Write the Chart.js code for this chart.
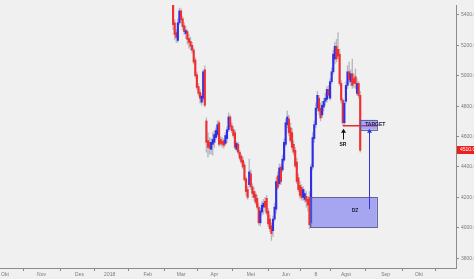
<!DOCTYPE html>
<html>
<head>
<meta charset="utf-8">
<script src="https://cdn.jsdelivr.net/npm/chart.js@4.4.1/dist/chart.umd.min.js"></script>
<style>
  html, body { margin: 0; padding: 0; background: #f0f0f0; }
  #c { display: block; }
</style>
</head>
<body>
<canvas id="c" width="474" height="279"></canvas>
<script>
// Daily sessions, numbered from the first session of October 2017
const firstBar = 106;
const opens = [5497,5348,5284,5232,5348,5426,5374,5329,5277,5290,5245,5226,5200,5168,5103,5007,4929,4890,4826,4852,
  5039,4703,4574,4562,4516,4549,4562,4594,4613,4691,4581,4568,4574,4555,4587,4645,4729,4671,4645,4626,
  4516,4549,4497,4471,4445,4413,4323,4252,4284,4355,4271,4239,4220,4194,4136,4033,4104,4136,4175,4194,
  4110,4058,4013,3981,4058,4123,4342,4291,4400,4381,4445,4549,4678,4716,4658,4626,4549,4510,4433,4329,
  4278,4265,4200,4187,4207,4187,4200,4033,4400,4587,4678,4787,4852,4787,4742,4794,4832,4845,4910,4852,
  4961,5026,5110,5194,5174,5142,4949,4839,4691,4832,4936,5026,4961,5013,4981,4994,4884,4949,4871];
const highs = [5530,5368,5303,5374,5445,5439,5387,5348,5323,5303,5271,5252,5219,5181,5116,5026,4949,4910,4878,5039,
  5065,4723,4626,4594,4587,4626,4639,4658,4703,4703,4600,4594,4587,4626,4665,4755,4742,4691,4665,4645,
  4568,4562,4510,4484,4465,4433,4336,4271,4452,4381,4291,4265,4239,4213,4162,4129,4175,4187,4200,4213,
  4129,4084,4033,4078,4162,4329,4368,4420,4420,4478,4587,4716,4768,4742,4691,4652,4574,4529,4458,4355,
  4304,4284,4271,4252,4239,4207,4239,4420,4626,4703,4820,4897,4871,4820,4832,4852,4884,4929,4936,4981,
  5052,5168,5219,5239,5284,5174,4968,4852,4839,4961,5065,5090,5039,5110,5013,5045,4981,4961,4897];
const lows = [5303,5239,5219,5219,5336,5348,5303,5271,5245,5207,5181,5168,5148,5078,4987,4910,4865,4820,4806,4832,
  4794,4497,4465,4484,4484,4478,4529,4581,4600,4536,4542,4529,4523,4542,4562,4632,4652,4626,4594,4516,
  4504,4484,4445,4420,4387,4304,4213,4187,4265,4252,4200,4181,4155,4123,4020,4013,4084,4091,4110,4084,
  4007,3975,3917,3942,4046,4097,4252,4278,4284,4368,4433,4536,4658,4607,4562,4510,4478,4394,4291,4239,
  4194,4181,4181,4168,4136,4110,3994,4007,4381,4562,4658,4768,4742,4703,4723,4768,4806,4826,4852,4839,
  4949,5013,5078,5090,5110,4936,4820,4671,4678,4820,4916,4949,4936,4916,4923,4916,4871,4852,4497];
const closes = [5336,5271,5252,5348,5426,5368,5323,5290,5297,5239,5219,5194,5168,5090,5000,4923,4884,4852,4865,5026,
  4806,4562,4529,4523,4562,4581,4613,4639,4678,4549,4555,4549,4542,4607,4645,4729,4665,4639,4607,4529,
  4555,4497,4458,4433,4400,4316,4239,4200,4368,4271,4226,4200,4168,4136,4033,4110,4149,4162,4136,4097,
  4026,3994,3962,4058,4136,4304,4265,4394,4304,4452,4562,4691,4729,4626,4574,4529,4497,4407,4304,4252,
  4213,4200,4252,4226,4175,4149,4020,4400,4594,4678,4787,4871,4768,4723,4806,4832,4852,4910,4871,4961,
  5026,5142,5194,5110,5129,4949,4839,4691,4820,4936,5026,4974,5013,4936,4949,4949,4949,4871,4510];

// Price axis and time axis labels
const priceTicks = [3800, 4000, 4200, 4400, 4600, 4800, 5000, 5200, 5400];
const monthTicks = [0, 23, 47, 66, 90, 111, 132, 155, 177, 196, 215, 240, 261];
const monthLabels = ['Okt', 'Nov', 'Des', '2018', 'Feb', 'Mar', 'Apr', 'Mei', 'Jun', '8', 'Agst', 'Sep', 'Okt'];

// Hand-drawn markup, in bar / price units
const demandZone = { from: 192.3, to: 234.5, top: 4200, bottom: 4000, text: 'DZ', textBar: 220.7, textPrice: 4110 };
const targetZone = { from: 223.8, to: 234.5, top: 4710, bottom: 4645, text: 'TARGET', textBar: 233.5, textPrice: 4678 };
const srLine = { from: 213.1, to: 234.5, price: 4671 };
const srArrow = { bar: 213.1, tail: 4581, tip: 4652, text: 'SR', textPrice: 4545 };
const targetArrow = { bar: 229.5, tail: 4123, tip: 4652 };

const UP = '#2f2fe8';
const DOWN = '#f03030';
const WICK = '#b6b6c2';
const AXIS = '#8c8c8c';
const FONT = "'Liberation Sans', Arial, sans-serif";

const bodies = opens.map((o, k) => ({ x: firstBar + k, y: [o, closes[k]] }));
const wicks = highs.map((h, k) => ({ x: firstBar + k, y: [lows[k], h] }));

function arrow(ctx, x, y0, y1, color) {
  ctx.save();
  ctx.strokeStyle = color;
  ctx.fillStyle = color;
  ctx.lineWidth = 1;
  ctx.beginPath();
  ctx.moveTo(x, y0);
  ctx.lineTo(x, y1 + 3);
  ctx.stroke();
  ctx.beginPath();
  ctx.moveTo(x, y1);
  ctx.lineTo(x - 2.5, y1 + 4);
  ctx.lineTo(x + 2.5, y1 + 4);
  ctx.closePath();
  ctx.fill();
  ctx.restore();
}

const markup = {
  id: 'markup',
  afterDatasetsDraw(chart) {
    const { ctx, scales: { x, y } } = chart;
    ctx.save();
    // demand zone
    let x0 = x.getPixelForValue(demandZone.from), x1 = x.getPixelForValue(demandZone.to);
    let y0 = y.getPixelForValue(demandZone.top), y1 = y.getPixelForValue(demandZone.bottom);
    ctx.fillStyle = 'rgba(96, 96, 240, 0.52)';
    ctx.fillRect(x0, y0, x1 - x0, y1 - y0);
    ctx.strokeStyle = 'rgba(90, 90, 150, 0.9)';
    ctx.lineWidth = 1;
    ctx.strokeRect(Math.round(x0) + 0.5, Math.round(y0) + 0.5, Math.round(x1 - x0), Math.round(y1 - y0));
    ctx.fillStyle = '#1c1c3c';
    ctx.font = 'bold 5px ' + FONT;
    ctx.textAlign = 'center';
    ctx.textBaseline = 'middle';
    ctx.fillText(demandZone.text, x.getPixelForValue(demandZone.textBar), y.getPixelForValue(demandZone.textPrice));

    // support/resistance line
    ctx.strokeStyle = '#e82a2a';
    ctx.lineWidth = 1.5;
    const ys = y.getPixelForValue(srLine.price);
    ctx.beginPath();
    ctx.moveTo(x.getPixelForValue(srLine.from), ys);
    ctx.lineTo(x.getPixelForValue(srLine.to), ys);
    ctx.stroke();

    // target zone
    x0 = x.getPixelForValue(targetZone.from); x1 = x.getPixelForValue(targetZone.to);
    y0 = y.getPixelForValue(targetZone.top); y1 = y.getPixelForValue(targetZone.bottom);
    ctx.fillStyle = 'rgba(96, 96, 240, 0.52)';
    ctx.fillRect(x0, y0, x1 - x0, y1 - y0);
    ctx.strokeStyle = 'rgba(90, 90, 150, 0.9)';
    ctx.lineWidth = 1;
    ctx.strokeRect(Math.round(x0) + 0.5, Math.round(y0) + 0.5, Math.round(x1 - x0), Math.round(y1 - y0));
    ctx.fillStyle = '#1c1c3c';
    ctx.font = 'bold 5px ' + FONT;
    ctx.fillText(targetZone.text, x.getPixelForValue(targetZone.textBar), y.getPixelForValue(targetZone.textPrice));

    // arrows
    arrow(ctx, Math.round(x.getPixelForValue(srArrow.bar)) + 0.5, y.getPixelForValue(srArrow.tail), y.getPixelForValue(srArrow.tip), '#111');
    ctx.fillStyle = '#111';
    ctx.fillText(srArrow.text, x.getPixelForValue(srArrow.bar), y.getPixelForValue(srArrow.textPrice));
    arrow(ctx, Math.round(x.getPixelForValue(targetArrow.bar)) + 0.5, y.getPixelForValue(targetArrow.tail), y.getPixelForValue(targetArrow.tip), '#3232e0');
    ctx.restore();
  },
  afterDraw(chart) {
    // last price tag on the price axis
    const { ctx, scales: { y }, chartArea } = chart;
    const last = closes[closes.length - 1];
    const py = y.getPixelForValue(last);
    ctx.save();
    ctx.fillStyle = '#f01e1e';
    ctx.fillRect(chartArea.right + 1, Math.round(py) - 4, 18, 8);
    ctx.fillStyle = '#ffffff';
    ctx.font = '5px ' + FONT;
    ctx.textAlign = 'left';
    ctx.textBaseline = 'middle';
    ctx.fillText(last.toFixed(1), chartArea.right + 4, Math.round(py));
    ctx.restore();
  }
};

new Chart(document.getElementById('c'), {
  type: 'bar',
  data: {
    datasets: [
      { data: wicks, backgroundColor: WICK, barThickness: 0.7, grouped: false, order: 2 },
      { data: bodies, grouped: false, order: 1, barThickness: 1.5,
        backgroundColor: c => { const r = c.raw; return r && r.y[1] >= r.y[0] ? UP : DOWN; } }
    ]
  },
  options: {
    responsive: false,
    devicePixelRatio: 1,
    animation: false,
    layout: { padding: 0 },
    plugins: { legend: { display: false }, tooltip: { enabled: false } },
    scales: {
      x: {
        type: 'linear', min: -3.15, max: 284.4, offset: false,
        grid: { drawOnChartArea: false, tickLength: 3, color: AXIS },
        border: { color: AXIS },
        ticks: { font: { size: 5, family: FONT }, color: '#7a7a7a', padding: 1, maxRotation: 0, autoSkip: false,
          callback: v => monthLabels[monthTicks.indexOf(v)] },
        afterBuildTicks: s => { s.ticks = monthTicks.map(v => ({ value: v })); },
        afterFit: s => { s.height = 11; }
      },
      y: {
        position: 'right', min: 3736, max: 5465,
        grid: { drawOnChartArea: false, tickLength: 3, color: AXIS },
        border: { color: AXIS },
        ticks: { font: { size: 5, family: FONT }, color: '#7a7a7a', padding: 2, callback: v => v.toFixed(1) },
        afterBuildTicks: s => { s.ticks = priceTicks.map(v => ({ value: v })); },
        afterFit: s => { s.width = 18; }
      }
    }
  },
  plugins: [markup]
});
</script>
</body>
</html>
